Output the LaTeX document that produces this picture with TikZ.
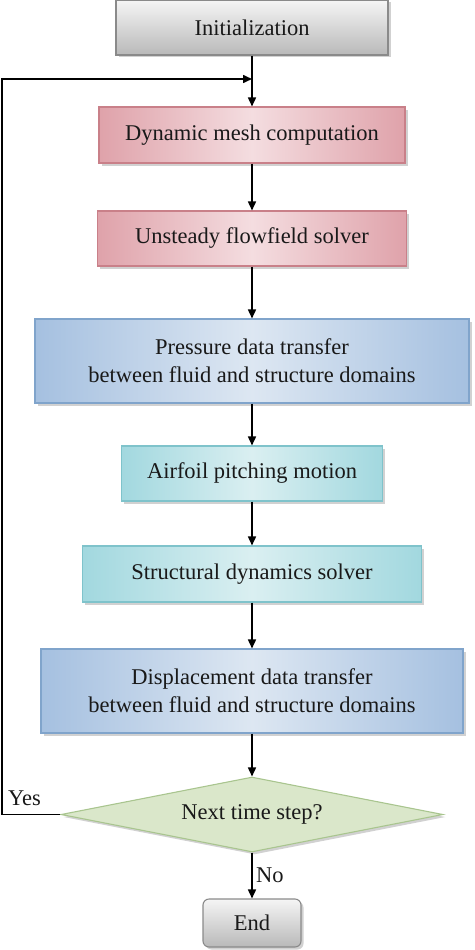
\documentclass[tikz,border=0pt]{standalone}
\usepackage{fontspec}
\setmainfont{Liberation Serif}
\usetikzlibrary{positioning,shapes.geometric,shadows,arrows.meta}

\definecolor{grayline}{HTML}{8A8A8A}
\definecolor{pinkline}{HTML}{C98089}
\definecolor{pinkdark}{HTML}{DFA2AA}
\definecolor{pinklight}{HTML}{F4DDE0}
\definecolor{blueline}{HTML}{80A4CB}
\definecolor{bluedark}{HTML}{A5C0E0}
\definecolor{bluelight}{HTML}{DDE7F2}
\definecolor{cyanline}{HTML}{7FC3CB}
\definecolor{cyandark}{HTML}{A2D8DF}
\definecolor{cyanlight}{HTML}{DAEFF1}
\definecolor{greenline}{HTML}{A9C58F}
\definecolor{greenfill}{HTML}{DAE7CA}

\tikzset{
  box/.style={draw, line width=1.1pt, inner sep=0pt, align=center,
    text=black!90, font=\fontsize{22.5}{28}\selectfont,
    drop shadow={shadow xshift=2.5pt, shadow yshift=-2.5pt, fill=gray!45, opacity=0.8}},
  greybox/.style={box, draw=grayline, top color=gray!8, bottom color=gray!55},
  pinkbox/.style={box, draw=pinkline, left color=pinkdark, right color=pinkdark, middle color=pinklight},
  bluebox/.style={box, draw=blueline, left color=bluedark, right color=bluedark, middle color=bluelight},
  cyanbox/.style={box, draw=cyanline, left color=cyandark, right color=cyandark, middle color=cyanlight},
  arrow/.style={line width=1.6pt, -{Triangle[length=9pt, width=8pt]}},
  label/.style={font=\fontsize{22.5}{28}\selectfont, text=black!90},
}

\begin{document}
\begin{tikzpicture}[x=1pt, y=-1pt]
\useasboundingbox (0,0) rectangle (474,950);
\def\xm{252};
\def\xl{2};

\def\ya{27.5};
\def\yb{135};
\def\yc{238.5};
\def\yd{361};
\def\ye{473.5};
\def\yf{574};
\def\yg{691};
\def\yh{814.5};
\def\yi{923};

\node[greybox, minimum width=272, minimum height=55] (init) at (\xm, \ya) {Initialization};
\node[pinkbox, minimum width=306, minimum height=56] (mesh) at (\xm, \yb) {Dynamic mesh computation};
\node[pinkbox, minimum width=309, minimum height=55] (flow) at (\xm, \yc) {Unsteady flowfield solver};
\node[bluebox, minimum width=434, minimum height=84] (press) at (\xm, \yd) {Pressure data transfer\\between fluid and structure domains};
\node[cyanbox, minimum width=261, minimum height=55] (pitch) at (\xm, \ye) {Airfoil pitching motion};
\node[cyanbox, minimum width=339, minimum height=56] (struct) at (\xm, \yf) {Structural dynamics solver};
\node[bluebox, minimum width=422, minimum height=84] (disp) at (\xm, \yg) {Displacement data transfer\\between fluid and structure domains};
\node[box, diamond, draw=greenline, fill=greenfill, aspect=5, minimum width=382, minimum height=75] (next) at (\xm, \yh) {Next time step?};
\node[greybox, rounded corners=6pt, minimum width=98, minimum height=48] (stop) at (\xm, \yi) {End};

\coordinate (join) at (\xm, 79);
\coordinate (corner) at (\xl, \yh);

\draw[arrow] (init) -- (mesh);
\draw[arrow] (mesh) -- (flow);
\draw[arrow] (flow) -- (press);
\draw[arrow] (press) -- (pitch);
\draw[arrow] (pitch) -- (struct);
\draw[arrow] (struct) -- (disp);
\draw[arrow] (disp) -- (next);
\draw[arrow] (next) -- node[label, right] {No} (stop);
\draw[arrow] (next.west) -- (corner) |- (join);
\node[label, anchor=south west, inner sep=0pt, xshift=6pt, yshift=9pt] (yes) at (corner) {Yes};
\end{tikzpicture}
\end{document}
